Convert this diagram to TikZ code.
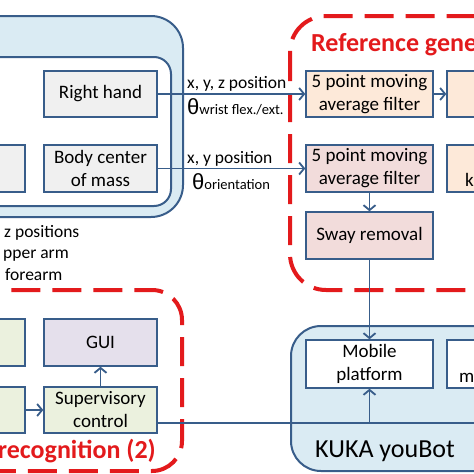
\documentclass[tikz,border=0pt]{standalone}
\usepackage{fontspec}
\setmainfont{Carlito}
\newfontfamily\thetafont{Liberation Sans}
\usetikzlibrary{arrows.meta}
\definecolor{bdr}{RGB}{56,93,138}
\definecolor{lblue}{RGB}{218,235,243}
\definecolor{gfill}{RGB}{240,240,240}
\definecolor{peach}{RGB}{253,233,217}
\definecolor{pinkf}{RGB}{242,220,219}
\definecolor{greenf}{RGB}{235,241,222}
\definecolor{lavf}{RGB}{229,224,236}
\definecolor{redd}{RGB}{227,26,28}
\begin{document}
\begin{tikzpicture}[x=1pt,y=-1pt,
  box/.style={draw=bdr, line width=1.4pt, inner sep=0pt, align=center,
    font=\fontsize{19}{23}\selectfont},
  bigrect/.style={draw=bdr, line width=2pt},
  reddash/.style={draw=redd, line width=4pt, dash pattern=on 29pt off 12pt},
  conn/.style={draw=bdr, line width=1.8pt},
  arr/.style={conn, -{Straight Barb[length=5pt,width=12pt]}},
  lbl/.style={anchor=base west, inner sep=0pt, font=\fontsize{17.5}{20}\selectfont},
  title/.style={text=redd, inner sep=0pt, font=\fontsize{26}{29}\selectfont\bfseries}
]
\useasboundingbox (0,0) rectangle (474,474);
\clip (0,0) rectangle (474,474);
\fill[white] (0,0) rectangle (474,474);

% Blue group (top-left)
\draw[bigrect, fill=lblue, rounded corners=32pt] (-60,16) rectangle (183,217);
\draw[bigrect, fill=white, rounded corners=17pt] (-50,57) rectangle (171,206);

% Red dashed group (reference generation)
\draw[reddash, rounded corners=36pt] (290,16) rectangle (560,290);
\node[title, anchor=base west] (tref) at (311,51) {Reference generation};

% Red dashed group (recognition)
\draw[reddash, rounded corners=30pt] (-80,290) rectangle (182,471);
\node[title, anchor=base east] (trec) at (156,458) {recognition (2)};

% KUKA group
\draw[bigrect, fill=lblue, rounded corners=30pt] (291,326) rectangle (560,471);
\node[inner sep=0pt, anchor=base west, font=\fontsize{26}{30}\selectfont] (kuka) at (315,457) {KUKA youBot};

% boxes top-left
\node[box, fill=gfill, minimum width=113pt, minimum height=46pt] (rh) at (100.5,94) {Right hand};
\node[box, fill=gfill, minimum width=113pt, minimum height=47pt] (bc) at (100.5,168.5) {Body center\\of mass};
\node[box, fill=gfill, minimum width=90pt, minimum height=47pt] (lb1) at (-20,168.5) {};

% reference generation boxes
\node[box, fill=peach, minimum width=127pt, minimum height=46pt] (f1) at (369.5,94) {5 point moving\\average filter};
\node[box, fill=pinkf, minimum width=127pt, minimum height=47pt] (f2) at (369.5,168.5) {5 point moving\\average filter};
\node[box, fill=pinkf, minimum width=127pt, minimum height=47pt] (sw) at (369.5,235.5) {Sway removal};
\node[box, fill=peach, minimum width=100pt, minimum height=46pt] (r1) at (497,94) {};
\node[box, fill=peach, minimum width=100pt, minimum height=47pt] (r2) at (497,168.5) {};
\node[inner sep=0pt, anchor=base west, font=\fontsize{19}{23}\selectfont] (r2t) at (465,186) {k};

% recognition boxes
\node[box, fill=lavf, minimum width=113pt, minimum height=47pt] (gui) at (100.5,342.5) {GUI};
\node[box, fill=greenf, minimum width=113pt, minimum height=46pt] (sup) at (100.5,410) {Supervisory\\control};
\node[box, fill=greenf, minimum width=90pt, minimum height=47pt] (lb2) at (-20,342.5) {};
\node[box, fill=greenf, minimum width=90pt, minimum height=46pt] (lb3) at (-20,410) {};

% youBot boxes
\node[box, fill=white, minimum width=127pt, minimum height=48pt] (mob) at (369.5,364) {Mobile\\platform};
\node[box, fill=white, minimum width=100pt, minimum height=48pt] (man) at (497,364) {};
\node[inner sep=0pt, anchor=base west, font=\fontsize{19}{23}\selectfont] (mant) at (459,382) {m};

% left text
\node[lbl] (t1) at (4,237) {z positions};
\node[lbl] (t2) at (3,258) {pper arm};
\node[lbl] (t3) at (5,280) {forearm};

% connectors
\draw[arr] (rh.east) -- (f1.west);
\draw[arr] (bc.east) -- (f2.west);
\draw[arr] (f1.east) -- (r1.west);
\draw[arr] (f2.south) -- (sw.north);
\draw[arr] (sw.south) -- (mob.north);
\draw[arr] (lb3.east) -- (sup.west);
\draw[arr] (sup.north) -- (gui.south);
\coordinate (sR) at ([yshift=-13pt]sup.east);
\coordinate (jn) at (mob.south |- sR);
\coordinate (farR) at (500,0 |- sR);
\draw[conn] (sR) -- (farR);
\draw[arr] (jn) -- (mob.south);

% connector labels
\node[lbl] (l1) at (187,88) {x, y, z position};
\node[lbl] (l2) at (187,114) {{\thetafont\fontsize{22}{22}\selectfont θ}{\fontsize{14.5}{14}\selectfont wrist flex./ext.}};
\node[lbl] (l3) at (187,163) {x, y position};
\node[lbl] (l4) at (192,189) {{\thetafont\fontsize{22}{22}\selectfont θ}{\fontsize{14.5}{14}\selectfont orientation}};
\end{tikzpicture}
\end{document}
